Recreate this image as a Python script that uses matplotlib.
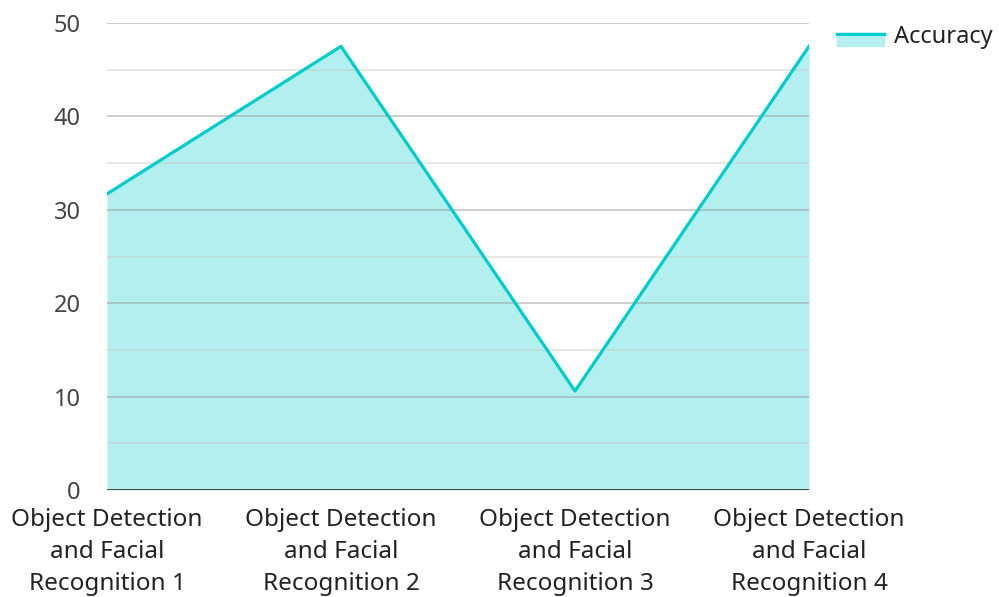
import matplotlib.pyplot as plt
import matplotlib.patches as mpatches
from matplotlib.lines import Line2D

plt.rcParams['font.family'] = ['Noto Sans', 'DejaVu Sans']

categorias = ["Object Detection\nand Facial\nRecognition 1",
              "Object Detection\nand Facial\nRecognition 2",
              "Object Detection\nand Facial\nRecognition 3",
              "Object Detection\nand Facial\nRecognition 4"]
accuracy = [31.7, 47.5, 10.6, 47.5]

linea = "#00CCCC"
relleno = "#B2EFEE"

fig = plt.figure(figsize=(9.99, 5.97), dpi=100)
ax = fig.add_axes([107 / 999, 1 - 490 / 597, 702 / 999, 467 / 597])

x = range(len(categorias))
ax.fill_between(x, accuracy, 0, color=relleno, zorder=1, linewidth=0)
ax.plot(x, accuracy, color=linea, linewidth=2.3, zorder=3)

# rejilla mayor y menor por encima del relleno
for v in range(5, 55, 5):
    mayor = v % 10 == 0
    ax.axhline(v, color="#999999" if mayor else "#cccccc",
               alpha=0.55, linewidth=1.2, zorder=2)
ax.axhline(0, color="#333333", linewidth=2, zorder=4)

ax.set_xlim(0, 3)
ax.set_ylim(0, 50)
ax.set_xticks(list(x))
ax.set_xticklabels(categorias, fontsize=17.5, color="#222222", linespacing=1.45)
ax.set_yticks(range(0, 51, 10))
ax.tick_params(axis="y", labelsize=17, labelcolor="#444444", length=0, pad=19)
ax.tick_params(axis="x", length=0, pad=13)
for s in ax.spines.values():
    s.set_visible(False)


class HandlerAcc:
    def legend_artist(self, legend, orig, fontsize, hb):
        x0, y0 = hb.xdescent, hb.ydescent
        w, h = hb.width, hb.height
        p = mpatches.Rectangle((x0, y0 - 2), w, h * 0.55, color=relleno,
                               transform=hb.get_transform())
        l = Line2D([x0, x0 + w], [y0 + h * 0.55, y0 + h * 0.55], color=linea,
                   linewidth=2.5, transform=hb.get_transform())
        hb.add_artist(p)
        hb.add_artist(l)
        return l


handle = (mpatches.Patch(color=relleno), Line2D([], [], color=linea))
ax.legend([handle], ["Accuracy"], handler_map={tuple: HandlerAcc()},
          loc="upper left", bbox_to_anchor=(1.02, 1.025), frameon=False,
          fontsize=17, handlelength=2.0, handletextpad=0.4, labelcolor="#222222",
          borderaxespad=0.2)

plt.savefig("out.png", dpi=100)
